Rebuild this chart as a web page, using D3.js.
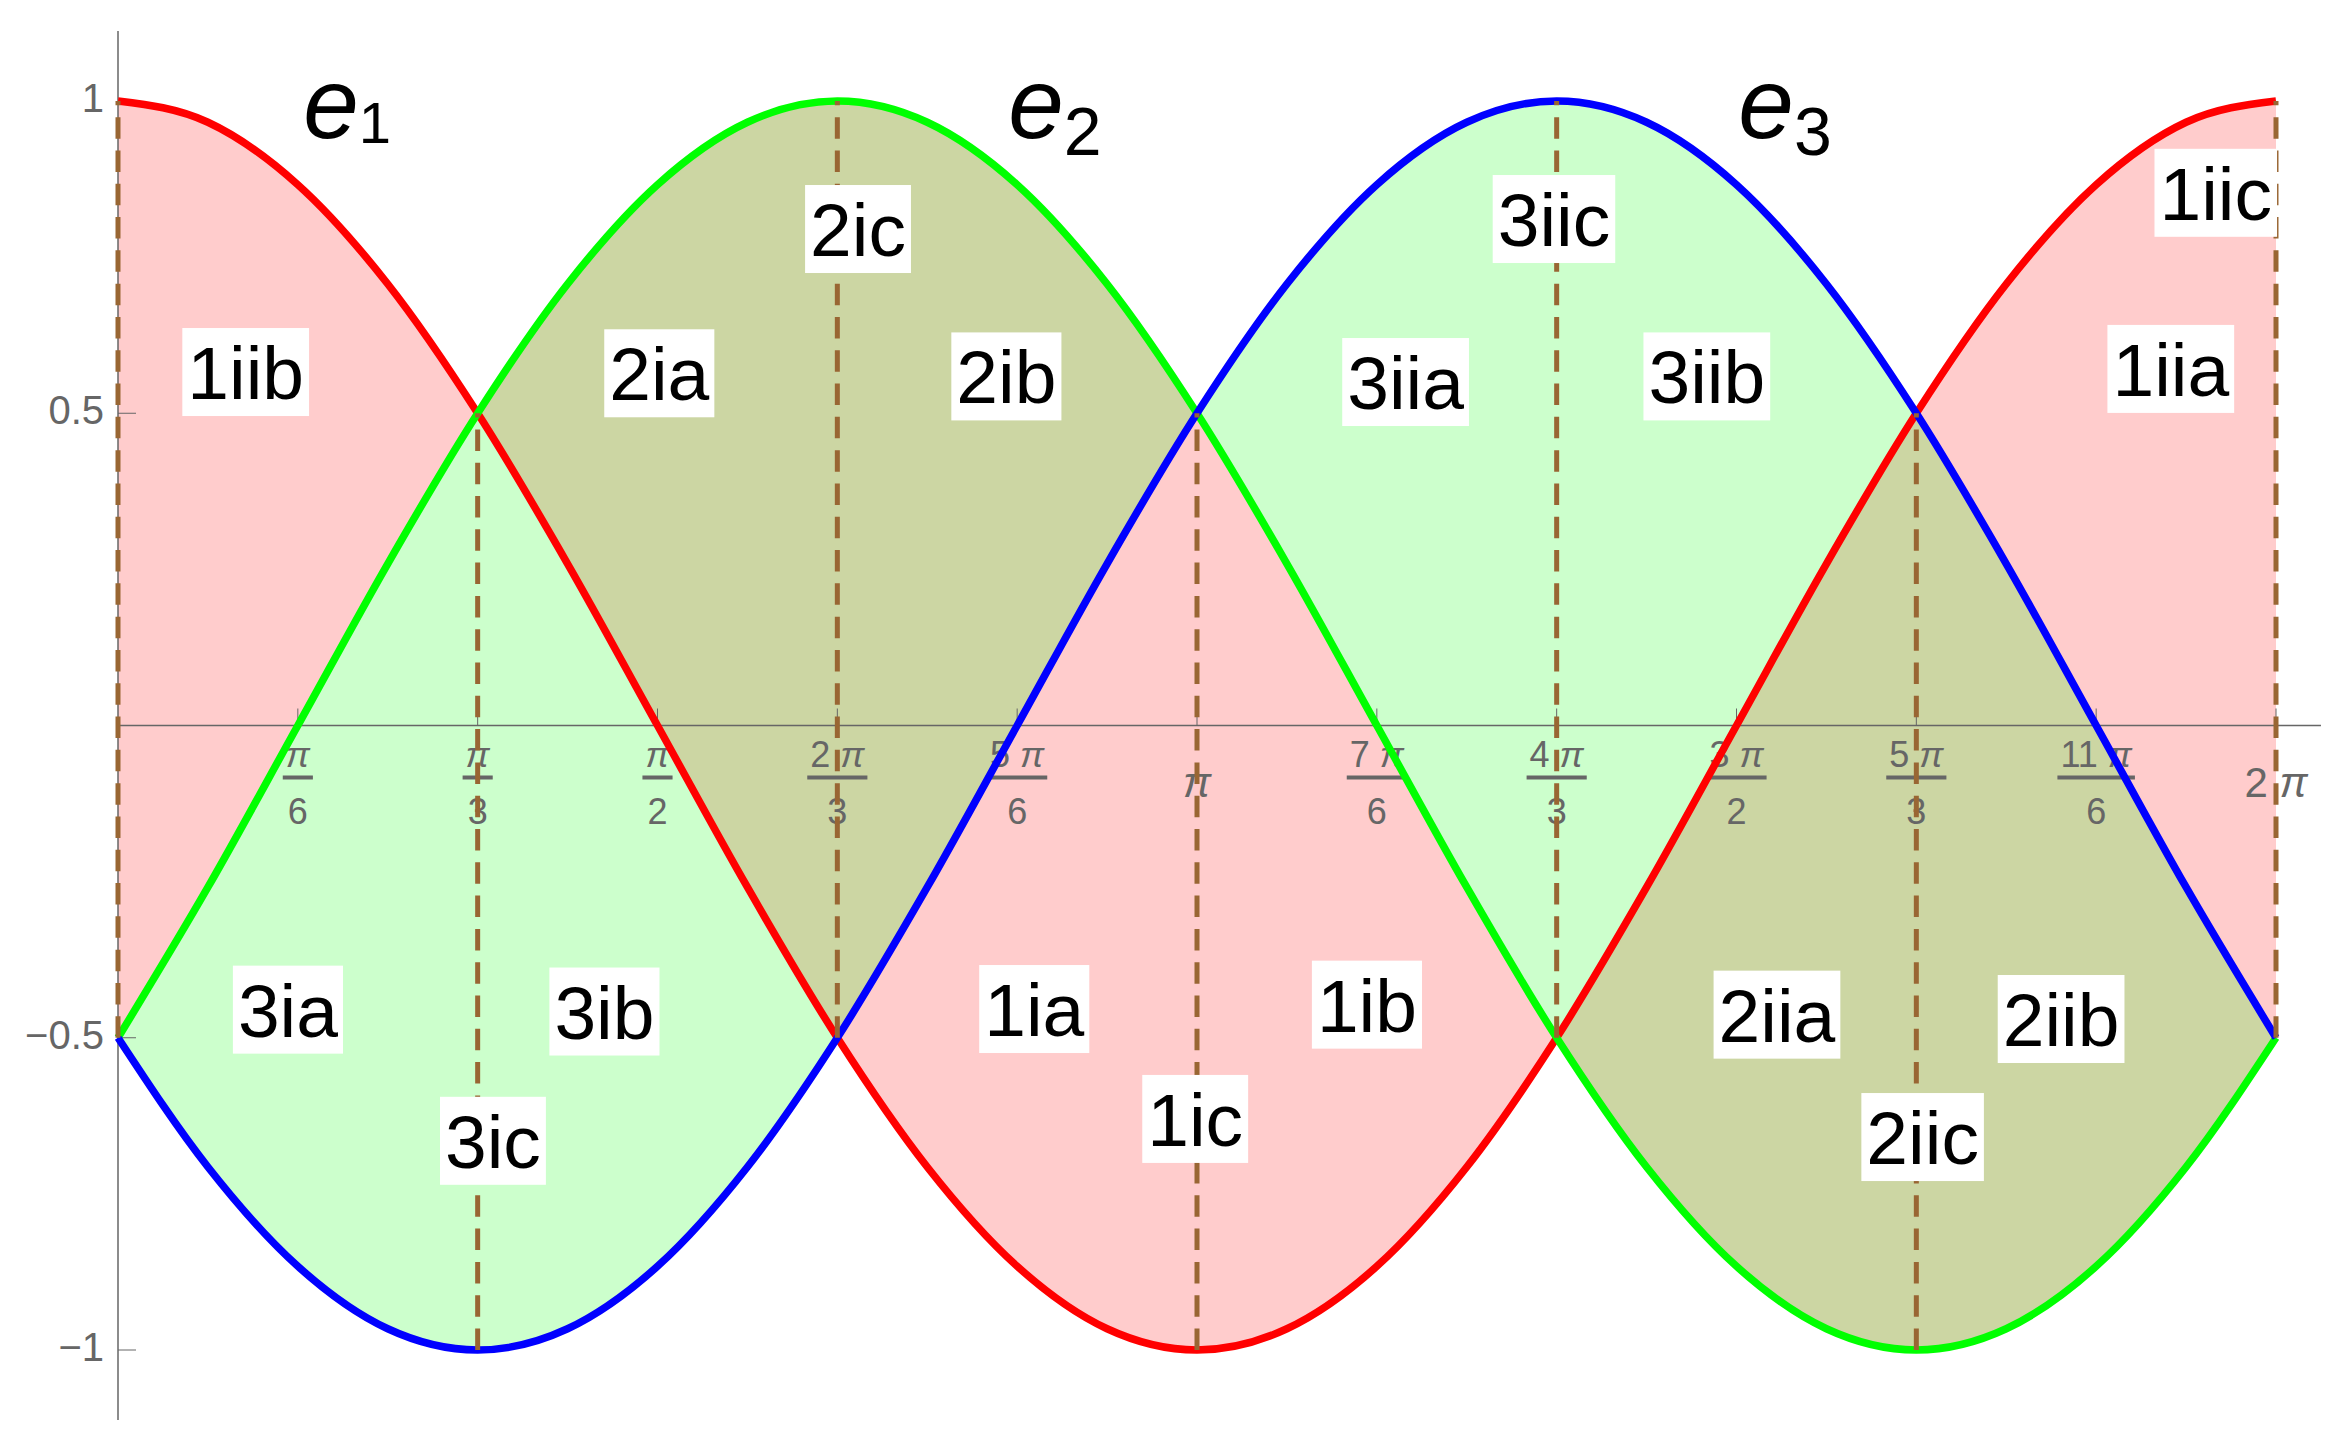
<!DOCTYPE html>
<html lang="en">
<head>
    <meta charset="UTF-8">
    <title>e1, e2, e3</title>
    <script src="https://d3js.org/d3.v7.min.js"></script>
    <style>
        body {
            margin: 0;
            padding: 0;
            background: #fff;
        }
        svg {
            display: block;
        }
        .tick-label {
            font-family: "Liberation Sans", Arial, sans-serif;
            fill: #666;
        }
        .region-label {
            font-family: "Liberation Sans", Arial, sans-serif;
            font-size: 75px;
            fill: #000;
        }
    </style>
</head>
<body>
    <svg id="chart" width="2343" height="1453"></svg>

    <script>
        // x positions in units of pi/12, from 0 to 2 pi
        const xSteps = [0, 1, 2, 3, 4, 5, 6, 7, 8, 9, 10, 11, 12, 13, 14, 15, 16, 17, 18, 19, 20, 21, 22, 23, 24];

        // curve values read at each step
        const e1Values = [1, 0.966, 0.866, 0.707, 0.5, 0.259, 0, -0.259, -0.5, -0.707, -0.866, -0.966, -1,
                          -0.966, -0.866, -0.707, -0.5, -0.259, 0, 0.259, 0.5, 0.707, 0.866, 0.966, 1];
        const e2Values = [-0.5, -0.259, 0, 0.259, 0.5, 0.707, 0.866, 0.966, 1, 0.966, 0.866, 0.707, 0.5,
                          0.259, 0, -0.259, -0.5, -0.707, -0.866, -0.966, -1, -0.966, -0.866, -0.707, -0.5];
        const e3Values = [-0.5, -0.707, -0.866, -0.966, -1, -0.966, -0.866, -0.707, -0.5, -0.259, 0, 0.259, 0.5,
                          0.707, 0.866, 0.966, 1, 0.966, 0.866, 0.707, 0.5, 0.259, 0, -0.259, -0.5];

        // dashed dividers (x in pi/12 units, top and bottom values)
        const dividerX = [0, 4, 8, 12, 16, 20, 24];
        const dividerTop = [1, 0.5, 1, 0.5, 1, 0.5, 1];
        const dividerBottom = [-0.5, -1, -0.5, -1, -0.5, -1, -0.5];

        // tick labels
        const xTickSteps = [2, 4, 6, 8, 10, 12, 14, 16, 18, 20, 22, 24];
        const xTickCoef = ["", "", "", "2", "5", "", "7", "4", "3", "5", "11", "2"];
        const xTickDen = ["6", "3", "2", "3", "6", "", "6", "3", "2", "3", "6", ""];
        const yTickValues = [-1, -0.5, 0.5, 1];
        const yTickLabels = ["\u22121", "\u22120.5", "0.5", "1"];

        // region labels
        const regionNames = ["1iib", "2ia", "2ib", "2ic", "3iia", "3iib", "3iic", "1iic", "1iia",
                             "3ia", "3ib", "3ic", "1ia", "1ib", "1ic", "2iia", "2iib", "2iic"];
        const regionX = [1.42, 6.02, 9.88, 8.23, 14.32, 17.67, 15.97, 23.33, 22.83,
                         1.89, 5.41, 4.17, 10.19, 13.89, 11.98, 18.45, 21.61, 20.07];
        const regionY = [0.566, 0.564, 0.559, 0.795, 0.55, 0.559, 0.811, 0.853, 0.571,
                         -0.455, -0.458, -0.665, -0.454, -0.447, -0.63, -0.463, -0.47, -0.659];

        // curve names
        const curveSubs = ["1", "2", "3"];
        const curveNameX = [2.06, 9.90, 18.02];
        const curveNameY = [0.94, 0.94, 0.94];

        const svg = d3.select("#chart");

        const x = d3.scaleLinear().domain([0, 24]).range([118, 2276]);
        const y = d3.scaleLinear().domain([-1, 1]).range([1350, 101]);

        const curve = d3.curveMonotoneX;

        // fills: e1 to e2 (red), e2 to e3 (green)
        svg.append("path")
            .datum(xSteps)
            .attr("fill", "#ff0000")
            .attr("fill-opacity", 0.2)
            .attr("d", d3.area().curve(curve)
                .x(i => x(i))
                .y0(i => y(e1Values[i]))
                .y1(i => y(e2Values[i])));

        svg.append("path")
            .datum(xSteps)
            .attr("fill", "#00ff00")
            .attr("fill-opacity", 0.2)
            .attr("d", d3.area().curve(curve)
                .x(i => x(i))
                .y0(i => y(e2Values[i]))
                .y1(i => y(e3Values[i])));

        // axes
        const axisColor = "#666";
        const xAxis = svg.append("g").attr("transform", `translate(0,${y(0)})`);
        xAxis.append("line")
            .attr("x1", x(0)).attr("x2", x(24.5))
            .attr("stroke", axisColor).attr("stroke-width", 1.5);
        xAxis.selectAll(".xt")
            .data(xTickSteps)
            .enter().append("line")
            .attr("x1", d => x(d)).attr("x2", d => x(d))
            .attr("y1", 0).attr("y2", -17)
            .attr("stroke", axisColor).attr("stroke-width", 1);

        const yAxis = svg.append("g").attr("transform", `translate(${x(0)},0)`);
        yAxis.append("line")
            .attr("y1", y(-1.112)).attr("y2", y(1.112))
            .attr("stroke", axisColor).attr("stroke-width", 1.5);
        yAxis.selectAll(".yt")
            .data(yTickValues)
            .enter().append("line")
            .attr("x1", 0).attr("x2", 18)
            .attr("y1", d => y(d)).attr("y2", d => y(d))
            .attr("stroke", axisColor).attr("stroke-width", 1);
        yAxis.selectAll(".yl")
            .data(yTickValues)
            .enter().append("text")
            .attr("class", "tick-label")
            .attr("x", -14)
            .attr("y", d => y(d) + 11)
            .attr("text-anchor", "end")
            .attr("font-size", 40)
            .text((d, i) => yTickLabels[i]);

        // x tick labels (fractions of pi)
        xTickSteps.forEach((s, i) => {
            const g = xAxis.append("g").attr("transform", `translate(${x(s)},0)`);
            const coef = xTickCoef[i];
            const den = xTickDen[i];
            if (den === "") {
                const t = g.append("text")
                    .attr("class", "tick-label")
                    .attr("y", 71)
                    .attr("text-anchor", "middle")
                    .attr("font-size", 42);
                if (coef) t.append("tspan").text(coef + " ");
                t.append("tspan").attr("font-style", "italic").text("\u03c0");
            } else {
                const t = g.append("text")
                    .attr("class", "tick-label")
                    .attr("y", 41)
                    .attr("text-anchor", "middle")
                    .attr("font-size", 36);
                if (coef) t.append("tspan").text(coef + " ");
                t.append("tspan").attr("font-style", "italic").text("\u03c0");
                const w = t.node().getComputedTextLength() + 6;
                g.append("rect")
                    .attr("x", -w / 2).attr("y", 50)
                    .attr("width", w).attr("height", 4)
                    .attr("fill", axisColor);
                g.append("text")
                    .attr("class", "tick-label")
                    .attr("y", 98)
                    .attr("text-anchor", "middle")
                    .attr("font-size", 36)
                    .text(den);
            }
        });

        // curves
        const lines = [
            { values: e1Values, color: "#ff0000" },
            { values: e2Values, color: "#00ff00" },
            { values: e3Values, color: "#0000ff" }
        ];
        lines.forEach(l => {
            svg.append("path")
                .datum(xSteps)
                .attr("fill", "none")
                .attr("stroke", l.color)
                .attr("stroke-width", 7.5)
                .attr("d", d3.line().curve(curve)
                    .x(i => x(i))
                    .y(i => y(l.values[i])));
        });

        // dashed dividers, drawn bottom to top
        svg.selectAll(".divider")
            .data(dividerX)
            .enter().append("line")
            .attr("x1", d => x(d)).attr("x2", d => x(d))
            .attr("y1", (d, i) => y(dividerBottom[i]))
            .attr("y2", (d, i) => y(dividerTop[i]))
            .attr("stroke", "#996633")
            .attr("stroke-width", 5)
            .attr("stroke-dasharray", "21.5 11.8");

        // region labels with white boxes
        regionNames.forEach((name, i) => {
            const cx = x(regionX[i]);
            const cy = y(regionY[i]);
            const g = svg.append("g");
            const rect = g.append("rect").attr("fill", "#fff");
            const t = g.append("text")
                .attr("class", "region-label")
                .attr("x", cx)
                .attr("y", cy + 27)
                .attr("text-anchor", "middle")
                .text(name);
            const w = t.node().getComputedTextLength() + 10;
            rect.attr("x", cx - w / 2).attr("y", cy - 44)
                .attr("width", w).attr("height", 88);
        });

        // curve names e1, e2, e3
        curveSubs.forEach((sub, i) => {
            const t = svg.append("text")
                .attr("x", x(curveNameX[i]))
                .attr("y", y(curveNameY[i]))
                .attr("font-family", "'Liberation Sans', Arial, sans-serif")
                .attr("fill", "#000");
            t.append("tspan")
                .attr("font-size", 100)
                .attr("font-style", "italic")
                .text("e");
            t.append("tspan")
                .attr("font-size", i === 0 ? 58 : 68)
                .attr("dy", i === 0 ? 5 : 17)
                .text(sub);
        });
    </script>
</body>
</html>
